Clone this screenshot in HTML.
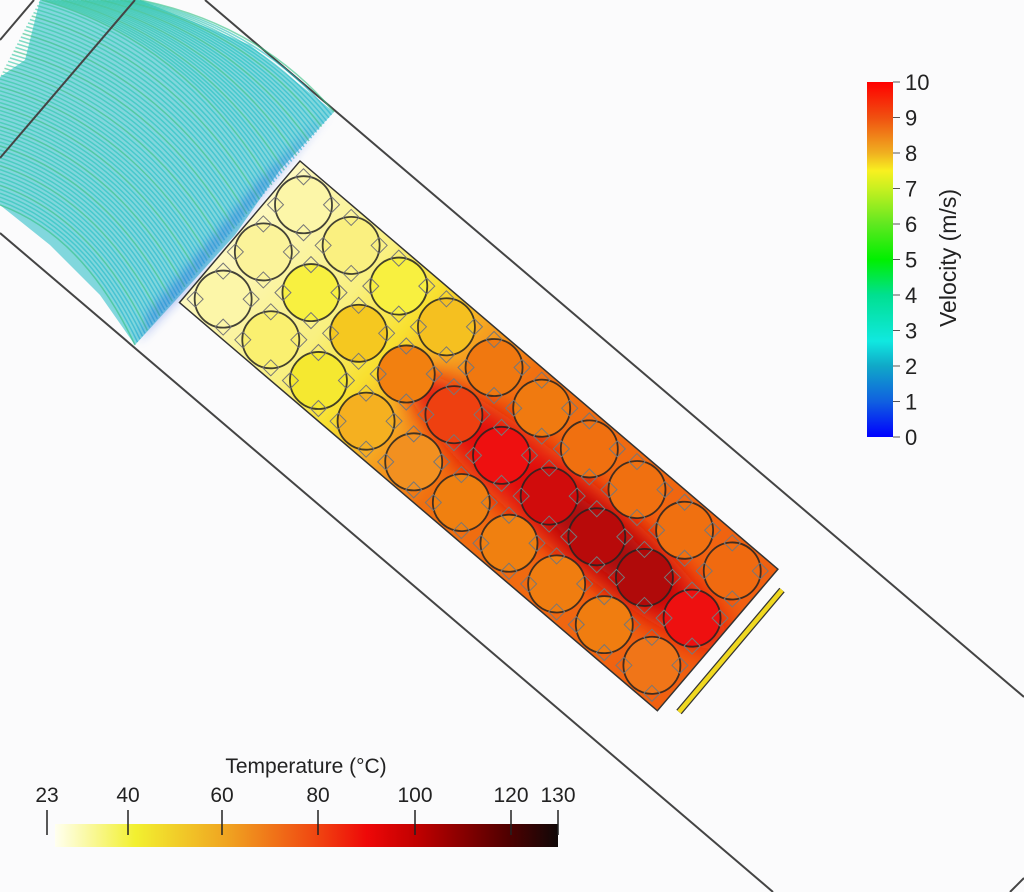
<!DOCTYPE html>
<html><head><meta charset="utf-8"><style>
html,body{margin:0;padding:0;background:#fbfbfc;}
svg{display:block;font-family:"Liberation Sans",sans-serif;}
</style></head><body>
<svg id="s" width="1024" height="892" viewBox="0 0 1024 892" xmlns="http://www.w3.org/2000/svg">
<defs>
<linearGradient id="vel" x1="0" y1="1" x2="0" y2="0">
<stop offset="0" stop-color="#0000ff"/><stop offset="0.1" stop-color="#1060e0"/><stop offset="0.2" stop-color="#10a8c8"/><stop offset="0.27" stop-color="#10e8e0"/><stop offset="0.4" stop-color="#00e090"/><stop offset="0.5" stop-color="#00f000"/><stop offset="0.6" stop-color="#60e820"/><stop offset="0.7" stop-color="#c8f020"/><stop offset="0.75" stop-color="#f8f020"/><stop offset="0.8" stop-color="#f0b020"/><stop offset="0.9" stop-color="#f05010"/><stop offset="1" stop-color="#ff0000"/>
</linearGradient>
<linearGradient id="tmp" x1="0" y1="0" x2="1" y2="0">
<stop offset="0" stop-color="#fffff0"/><stop offset="0.16" stop-color="#f2f030"/><stop offset="0.35" stop-color="#f0a020"/><stop offset="0.53" stop-color="#f04010"/><stop offset="0.62" stop-color="#ee0808"/><stop offset="0.72" stop-color="#c00000"/><stop offset="0.9" stop-color="#500000"/><stop offset="1" stop-color="#100808"/>
</linearGradient>
<linearGradient id="box" x1="0" y1="0" x2="628" y2="0" gradientUnits="userSpaceOnUse">
<stop offset="0" stop-color="#fdf8c0"/><stop offset="0.2" stop-color="#f9f080"/><stop offset="0.3" stop-color="#f8e030"/><stop offset="0.4" stop-color="#f5a020"/><stop offset="0.5" stop-color="#f07010"/><stop offset="1" stop-color="#f06010"/>
</linearGradient>
<linearGradient id="sg" x1="60" y1="40" x2="300" y2="300" gradientUnits="userSpaceOnUse">
<stop offset="0" stop-color="#30c8a0"/><stop offset="0.4" stop-color="#20c0c0"/><stop offset="0.75" stop-color="#20b0d0"/><stop offset="1" stop-color="#1040e0"/>
</linearGradient>
<filter id="bl" x="-50%" y="-50%" width="200%" height="200%"><feGaussianBlur stdDeviation="14"/></filter>
<filter id="bl2" x="-50%" y="-50%" width="200%" height="200%"><feGaussianBlur stdDeviation="5"/></filter>
<clipPath id="bc"><rect x="0" y="0" width="628" height="186"/></clipPath>
</defs>
<g stroke="#444" stroke-width="2" fill="none">
<line x1="205" y1="0" x2="1024" y2="697"/>
<line x1="0" y1="233" x2="773" y2="892"/>
<line x1="1010" y1="892" x2="1024" y2="878"/>
</g>
<g id="stream"></g>
<g stroke="#444" stroke-width="2" fill="none">
<line x1="0" y1="40" x2="34" y2="0"/>
<line x1="0" y1="158" x2="135" y2="0"/>
</g>
<g transform="matrix(0.761,0.650,-0.648,0.761,300,161)">
<g clip-path="url(#bc)">
<rect x="0" y="0" width="628" height="186" fill="url(#box)"/>
<ellipse cx="430" cy="93" rx="210" ry="38" fill="#e41010" filter="url(#bl)"/>
<ellipse cx="480" cy="93" rx="90" ry="22" fill="#a00808" filter="url(#bl)"/>
</g>
<g id="cells"></g>
<rect x="0" y="0" width="628" height="186" fill="none" stroke="#333" stroke-width="1.5"/>
</g>
<g id="dia" stroke="#777" stroke-width="1" fill="none"></g>
<line x1="679" y1="712" x2="782" y2="590" stroke="#333" stroke-width="7"/>
<line x1="679" y1="712" x2="782" y2="590" stroke="#f0d820" stroke-width="4.5"/>
<rect x="867" y="82" width="26" height="355" fill="url(#vel)"/>
<g id="vt" font-size="22" fill="#222"></g>
<text transform="translate(956,258) rotate(-90)" text-anchor="middle" font-size="23" fill="#222">Velocity (m/s)</text>
<text x="306" y="773" text-anchor="middle" font-size="21" fill="#222">Temperature (°C)</text>
<rect x="55" y="824" width="503" height="23" fill="url(#tmp)"/>
<g id="tt" font-size="21" fill="#222" text-anchor="middle"></g>
</svg>
<script>
var NS="http://www.w3.org/2000/svg";
function el(p,t,a,txt){var e=document.createElementNS(NS,t);for(var k in a)e.setAttribute(k,a[k]);if(txt!=null)e.textContent=txt;p.appendChild(e);return e;}
var vt=document.getElementById('vt');
for(var i=0;i<=10;i++){var y=437-i*35.5;el(vt,'line',{x1:893,y1:y,x2:900,y2:y,stroke:'#555','stroke-width':1});el(vt,'text',{x:905,y:y+8},String(i));}
var tt=document.getElementById('tt');
[[23,47],[40,128],[60,222],[80,318],[100,415],[120,511],[130,558]].forEach(function(p){
el(tt,'line',{x1:p[1],y1:810,x2:p[1],y2:835,stroke:'#222','stroke-width':1.5});
el(tt,'text',{x:p[1],y:802},String(p[0]));});
var sg=document.getElementById('stream');
el(sg,'path',{d:'M40,0 L140,0 L250,45 L334,112 L280,170 L235,235 L185,290 L135,345 L100,295 L50,245 L0,205 L0,77 L25,60 Z',fill:'#30c0c8',opacity:0.6});
function startPt(s){var L1=100,L2=87,L3=128,T=L1+L2+L3,d=s*T;
if(d<L1)return[140-d,0];d-=L1;if(d<L2){var t=d/L2;return[40-40*t,77*t];}d-=L2;return[0,77+d];}
var N=80;
for(var k=0;k<=N;k++){var s=k/N;var p=startPt(s);var sx=p[0],sy=p[1];
var ex=334-199*s, ey=112+233*s;
var cx=sx+0.62*(ex-sx), cy=sy+0.22*(ey-sy);
var c=(k%5==0)?'#30c080':'url(#sg)';
el(sg,'path',{d:'M'+sx.toFixed(1)+','+sy.toFixed(1)+' Q'+cx.toFixed(1)+','+cy.toFixed(1)+' '+ex.toFixed(1)+','+ey.toFixed(1),stroke:c,'stroke-width':1.5,fill:'none',opacity:0.6});}
el(sg,'path',{d:'M330,112 L300,148 L260,198 L220,248 L180,298 L138,342 L150,310 L210,240 L260,180 Z',fill:'#1a50e0',opacity:0.35,filter:'url(#bl2)'});
var cols=[
['#fcf6a8','#fbf39a','#fcf6a8'],
['#faf080','#f8f040','#faf070'],
['#f8f040','#f5c820','#f5e830'],
['#f5c020','#f28010','#f5b020'],
['#f07810','#ee4010','#f29020'],
['#f07a10','#ee1010','#f08010'],
['#f07010','#d00c0c','#f08010'],
['#f07010','#b80a0a','#f07d10'],
['#f07010','#b00a0a','#f07d10'],
['#f06a10','#ee1010','#f07518']];
var cg=document.getElementById('cells'),dg=document.getElementById('dia');
for(var i=0;i<10;i++)for(var j=0;j<3;j++){
var lx=31+62.6*i, ly=31+62*j;
el(cg,'circle',{cx:lx,cy:ly,r:28.5,fill:cols[i][j],stroke:'#222','stroke-width':1.8,'stroke-opacity':0.85});
var X=300+0.761*lx-0.648*ly, Y=161+0.650*lx+0.761*ly;
[[28,0],[-28,0],[0,28],[0,-28]].forEach(function(o){var px=X+o[0],py=Y+o[1],d=8;
el(dg,'path',{d:'M'+(px-d)+','+py+' L'+px+','+(py-d)+' L'+(px+d)+','+py+' L'+px+','+(py+d)+' Z'});});
}
</script>
</body></html>
